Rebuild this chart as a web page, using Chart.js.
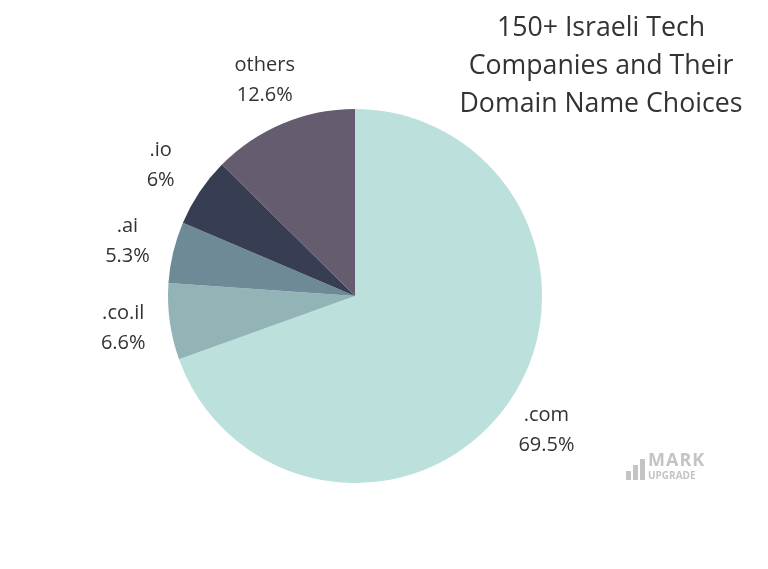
<!DOCTYPE html>
<html><head><meta charset="utf-8">
<script src="https://cdn.jsdelivr.net/npm/chart.js@4"></script>
<style>
html,body{margin:0;padding:0;background:#fff;}
#wrap{position:relative;width:768px;height:569px;}
#title{position:absolute;left:440px;top:7px;width:322px;text-align:center;font-family:"Open Sans",sans-serif;font-size:26.7px;line-height:38px;color:#333;}
#logo{position:absolute;left:626px;top:453px;font-family:"Open Sans",sans-serif;color:#c4c4c4;font-weight:bold;}
</style></head><body>
<div id="wrap">
<canvas id="c" width="768" height="569"></canvas>
<div id="title">150+ Israeli Tech<br>Companies and Their<br>Domain Name Choices</div>
<div id="logo"><span style="display:inline-block;vertical-align:top;margin-top:6px;font-size:0">
<span style="display:inline-block;width:5px;height:9px;background:#c4c4c4;margin-right:2px;vertical-align:bottom"></span><span style="display:inline-block;width:5px;height:15px;background:#c4c4c4;margin-right:2px;vertical-align:bottom"></span><span style="display:inline-block;width:5px;height:21px;background:#c4c4c4;margin-right:3px;vertical-align:bottom"></span></span><span style="display:inline-block;line-height:13px"><span style="font-size:18px;letter-spacing:1px">MARK</span><br><span style="font-size:10px">UPGRADE</span></span></div>
</div>
<script>
const categories = [".com", ".co.il", ".ai", ".io", "others"];
const values = [69.5, 6.6, 5.3, 6, 12.6];
const valueLabels = ["69.5%", "6.6%", "5.3%", "6%", "12.6%"];
const colors = ["#bce0dc", "#92b4b7", "#6e8a96", "#373d52", "#655c70"];

const outLabels = {
  id: "outLabels",
  afterDraw(chart) {
    const ctx = chart.ctx;
    const meta = chart.getDatasetMeta(0);
    ctx.save();
    ctx.font = '20px "Open Sans", sans-serif';
    ctx.fillStyle = "#333";
    ctx.textAlign = "center";
    ctx.textBaseline = "middle";
    meta.data.forEach((arc, i) => {
      const mid = (arc.startAngle + arc.endAngle) / 2;
      const r = arc.outerRadius + 47;
      const x = arc.x + Math.cos(mid) * r;
      const y = arc.y + Math.sin(mid) * r;
      ctx.fillText(categories[i], x, y - 15);
      ctx.fillText(valueLabels[i], x, y + 15);
    });
    ctx.restore();
  }
};

new Chart(document.getElementById("c"), {
  type: "pie",
  data: { labels: categories, datasets: [{ data: values, backgroundColor: colors, borderWidth: 0 }] },
  options: {
    responsive: false, animation: false,
    layout: { padding: { left: 168, right: 226, top: 109, bottom: 86 } },
    plugins: { legend: { display: false }, tooltip: { enabled: false } }
  },
  plugins: [outLabels]
});
</script>
</body></html>
